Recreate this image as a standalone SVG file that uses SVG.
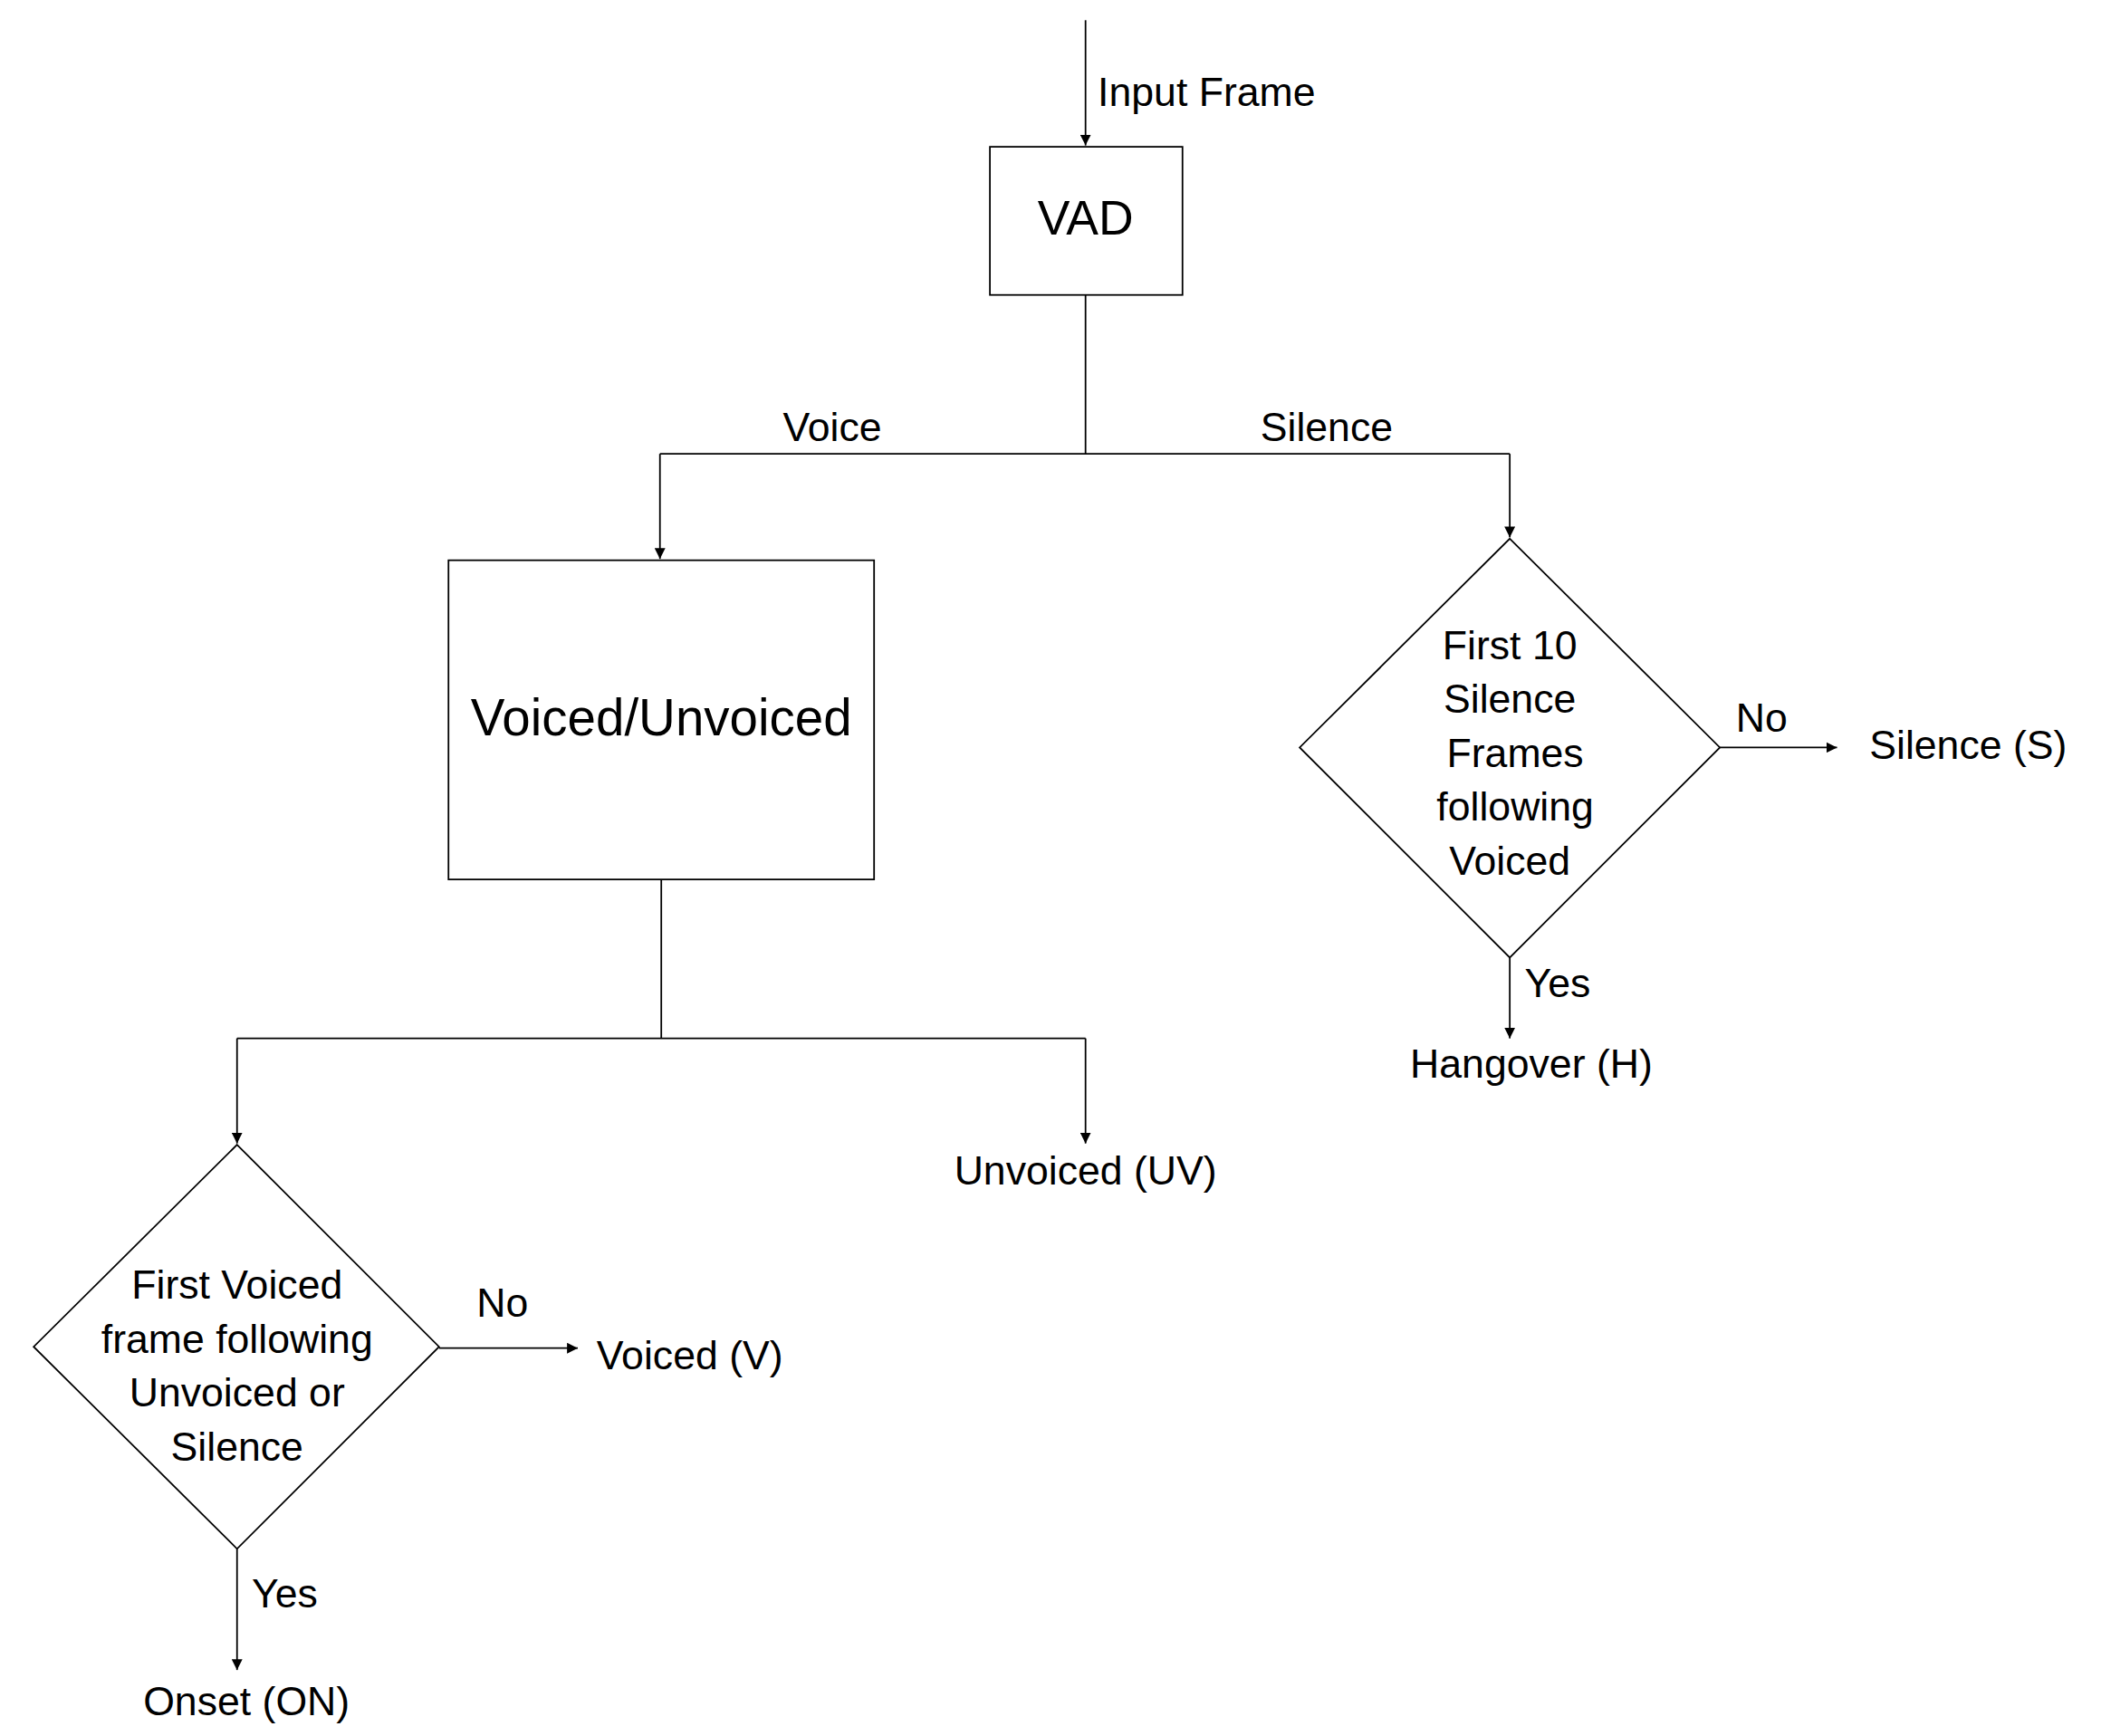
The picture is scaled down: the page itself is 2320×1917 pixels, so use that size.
<svg xmlns="http://www.w3.org/2000/svg" width="2320" height="1917" viewBox="0 0 2320 1917">
<style>
.s{fill:none;stroke:#000;stroke-width:1.2}
.n{fill:#fff;stroke:#000;stroke-width:1.2}
text{font-family:"Liberation Sans",Arial,sans-serif;font-size:30px;fill:#000;dominant-baseline:central}
.c{text-anchor:middle}
</style>
<defs><marker id="a" viewBox="0 0 10 10" refX="10" refY="5" markerWidth="8" markerHeight="8" markerUnits="userSpaceOnUse" orient="auto"><path d="M0,0L10,5L0,10z"/></marker></defs>
<rect width="2320" height="1917" fill="#fff"/>
<g transform="scale(1.4872)">
<g id="connectors">
<path class="s" d="M806,15V108" marker-end="url(#a)"/>
<path class="s" d="M806,219V337M490,337H1121"/>
<path class="s" d="M490,337V415" marker-end="url(#a)"/>
<path class="s" d="M1121,337V399" marker-end="url(#a)"/>
<path class="s" d="M1277,555H1364" marker-end="url(#a)"/>
<path class="s" d="M1121,711V771" marker-end="url(#a)"/>
<path class="s" d="M491,653V771M176,771H806"/>
<path class="s" d="M176,771V849" marker-end="url(#a)"/>
<path class="s" d="M806,771V849" marker-end="url(#a)"/>
<path class="s" d="M326,1001H429" marker-end="url(#a)"/>
<path class="s" d="M176,1150V1240" marker-end="url(#a)"/>
<text x="815" y="68">Input Frame</text>
<text class="c" x="618" y="317">Voice</text>
<text class="c" x="985" y="317">Silence</text>
<text class="c" x="1308" y="533">No</text>
<text x="1132" y="730">Yes</text>
<text class="c" x="373" y="967">No</text>
<text x="187" y="1183">Yes</text>
</g>
<g id="vad"><rect class="n" x="735" y="109" width="143" height="110"/><text class="c" x="806" y="162" style="font-size:36px">VAD</text></g>
<g id="vuv"><rect class="n" x="333" y="416" width="316" height="237"/><text class="c" x="491" y="533" style="font-size:38px">Voiced/Unvoiced</text></g>
<g id="d1"><path class="n" d="M1121,400L1277,555L1121,711L965,555Z"/>
<text class="c" x="1121" y="479">First 10</text><text class="c" x="1121" y="519">Silence</text><text class="c" x="1125" y="559">Frames</text><text class="c" x="1125" y="599">following</text><text class="c" x="1121" y="639">Voiced</text></g>
<g id="silence"><text x="1388" y="553">Silence (S)</text></g>
<g id="hangover"><text class="c" x="1137" y="790">Hangover (H)</text></g>
<g id="uv"><text class="c" x="806" y="869">Unvoiced (UV)</text></g>
<g id="d2"><path class="n" d="M176,850L326,1000L176,1150L25,1000Z"/>
<text class="c" x="176" y="954">First Voiced</text><text class="c" x="176" y="994">frame following</text><text class="c" x="176" y="1034">Unvoiced or</text><text class="c" x="176" y="1074">Silence</text></g>
<g id="voiced"><text x="443" y="1006">Voiced (V)</text></g>
<g id="onset"><text class="c" x="183" y="1263">Onset (ON)</text></g>
</g>
</svg>
